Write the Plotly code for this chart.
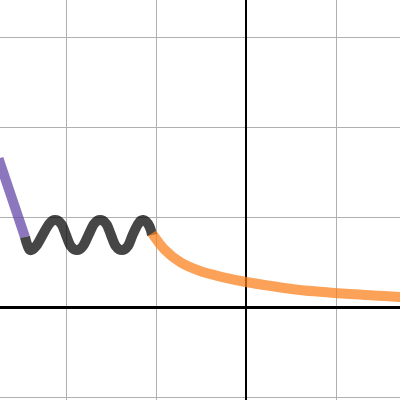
import plotly.graph_objects as go

purple_x = [-2.75, -2.456]
purple_y = [1.65, 0.778]

wave_x = [-2.456, -2.43, -2.4, -2.37, -2.33, -2.26, -2.19, -2.15, -2.122, -2.09, -2.05, -2.0,
          -1.95, -1.91, -1.878, -1.85, -1.81, -1.75, -1.69, -1.65, -1.622, -1.59, -1.55, -1.5,
          -1.45, -1.41, -1.378, -1.35, -1.31, -1.26, -1.20, -1.17, -1.144, -1.11, -1.07, -1.044]
wave_y = [0.778, 0.69, 0.633, 0.64, 0.68, 0.80, 0.92, 0.96, 0.967, 0.96, 0.92, 0.80,
          0.68, 0.64, 0.633, 0.64, 0.68, 0.80, 0.92, 0.96, 0.967, 0.96, 0.92, 0.80,
          0.68, 0.64, 0.633, 0.64, 0.68, 0.80, 0.92, 0.96, 0.967, 0.95, 0.89, 0.80]

orange_x = [-1.044, -0.9, -0.733, -0.511, -0.25, 0.0, 0.3, 0.6, 1.156, 1.75]
orange_y = [0.82, 0.633, 0.5, 0.4, 0.33, 0.278, 0.23, 0.189, 0.144, 0.11]

fig = go.Figure()
style = dict(mode="lines", line_shape="spline", opacity=0.72, showlegend=False, hoverinfo="skip")
fig.add_trace(go.Scatter(x=purple_x, y=purple_y, line=dict(color="#6042a6", width=10), **style))
fig.add_trace(go.Scatter(x=wave_x, y=wave_y, line=dict(color="#000000", width=10), **style))
fig.add_trace(go.Scatter(x=orange_x, y=orange_y, line=dict(color="#fa7e19", width=10), **style))

x0 = -246/90
fig.update_layout(
    width=400, height=400, margin=dict(l=0, r=0, t=0, b=0),
    plot_bgcolor="white", paper_bgcolor="white",
    xaxis=dict(range=[x0, x0 + 400/90], dtick=1, showgrid=True, gridcolor="#b0b0b0", gridwidth=1,
               zeroline=True, zerolinecolor="black", zerolinewidth=2, showticklabels=False, fixedrange=True),
    yaxis=dict(range=[-93/90, 307/90], dtick=1, showgrid=True, gridcolor="#b0b0b0", gridwidth=1,
               zeroline=True, zerolinecolor="black", zerolinewidth=2.5, showticklabels=False, fixedrange=True),
)
fig.write_html("out.html", config={"displayModeBar": False})
with open("out.html", encoding="utf-8") as f:
    html = f.read()
html = html.replace("<body>", '<body style="margin:0;overflow:hidden">', 1)
with open("out.html", "w", encoding="utf-8") as f:
    f.write(html)
